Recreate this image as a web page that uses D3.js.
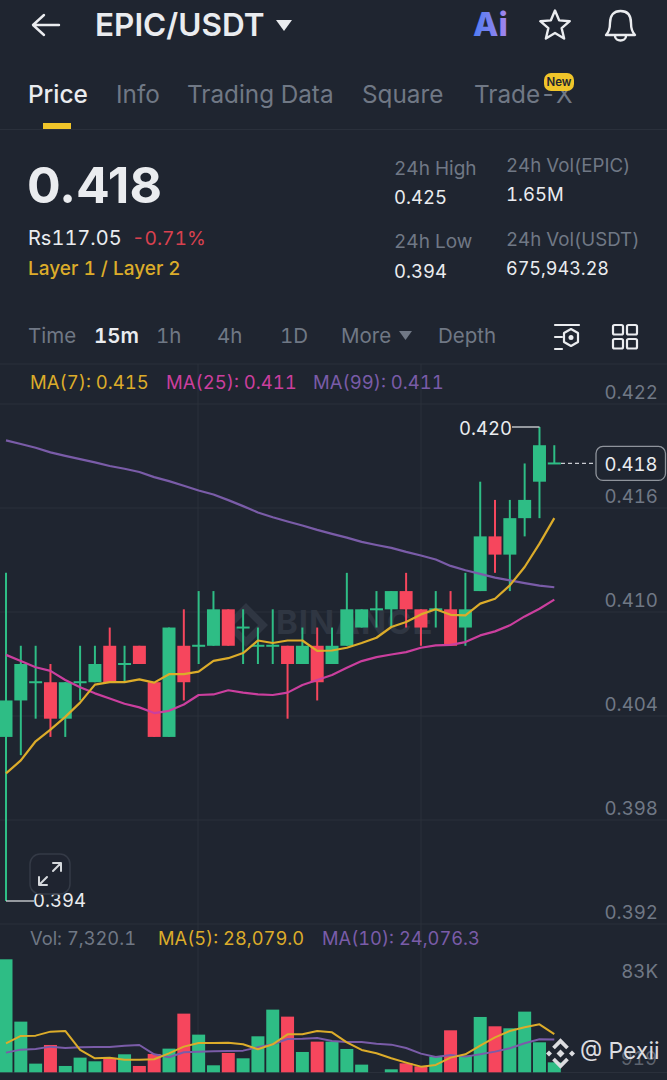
<!DOCTYPE html>
<html>
<head>
<meta charset="utf-8">
<script src="https://cdn.jsdelivr.net/npm/d3@7"></script>
<style>
    html, body { margin: 0; padding: 0; background: #1f2530; }
    svg { display: block; }
    text { font-family: Inter, "Noto Sans", sans-serif; font-variant-numeric: tabular-nums; }
</style>
</head>
<body>
<div id="chart"></div>
<script>

// candles, oldest first
const opens = [.403,.405,.406,.406,.404,.406,.406,.408,.407,.408,.406,.403,.408,.408,.408,.410,.409,.408,.408,.408,.407,.408,.407,.408,.409,.410,.410,.411,.410,.410,.410,.409,.411,.414,.413,.415,.417,.418];
const closes = [.405,.407,.406,.404,.406,.406,.407,.406,.407,.407,.403,.409,.406,.408,.410,.408,.409,.408,.408,.407,.408,.406,.408,.410,.410,.410,.411,.410,.409,.410,.408,.410,.414,.413,.415,.416,.419,.418];
const highs = [.412,.408,.408,.407,.406,.408,.408,.409,.408,.408,.406,.409,.410,.411,.411,.410,.410,.409,.410,.408,.409,.409,.409,.412,.410,.411,.411,.412,.410,.411,.411,.412,.417,.416,.416,.418,.420,.419];
const lows = [.394,.402,.404,.403,.403,.405,.406,.406,.406,.407,.403,.403,.405,.407,.408,.408,.407,.407,.407,.404,.407,.405,.407,.408,.409,.409,.409,.409,.408,.409,.408,.408,.411,.412,.411,.414,.415,.418];

const ma7 = [.40100,.40171,.40276,.40340,.40410,.40488,.40587,.40601,.40601,.40616,.40598,.40644,.40644,.40658,.40717,.40732,.40760,.40829,.40815,.40829,.40829,.40772,.40774,.40789,.40815,.40844,.40903,.40930,.40972,.41000,.40970,.40967,.41031,.41058,.41131,.41232,.41360,.41500];
const ma25 = [.40750,.40717,.40682,.40662,.40612,.40572,.40539,.40511,.40482,.40462,.40431,.40443,.40478,.40530,.40533,.40556,.40543,.40533,.40530,.40543,.40585,.40612,.40640,.40679,.40716,.40738,.40752,.40765,.40789,.40802,.40805,.40820,.40857,.40879,.40912,.40961,.41003,.41053];
const ma99 = [.41927,.41907,.41886,.41861,.41842,.41824,.41806,.41786,.41771,.41753,.41725,.41703,.41678,.41652,.41630,.41599,.41566,.41531,.41505,.41482,.41460,.41436,.41414,.41393,.41370,.41353,.41337,.41315,.41295,.41273,.41238,.41214,.41194,.41174,.41159,.41144,.41130,.41121];

const volumes = [83000,37215,6366,20077,4652,10773,8080,10283,13221,4652,13466,17383,43091,27667,5142,14200,10283,26442,46029,40888,14935,22525,22525,17139,5631,0,2204,6611,4407,11507,30850,12242,40643,33788,32319,44560,22035,7320];
const volMa5 = [21300,26700,26930,29870,30360,16400,10280,10770,9300,9300,9550,13950,18850,21540,21540,21790,20560,16890,20560,27910,27910,30360,29380,22030,16400,13950,10280,7100,4160,5390,10770,13220,19580,25700,30360,33050,35250,28079];
const volMa10 = [14440,16650,17140,18850,17870,18360,18600,18600,19580,20070,13220,11020,14690,15180,15420,15670,15910,18360,20560,24480,24720,25210,23010,22280,22280,21050,20320,17870,13710,11260,12730,11510,13220,15180,17630,21300,24240,24076];

const axisTicks = [.422,.416,.410,.404,.398,.392];
const tabs = ['Price','Info','Trading Data','Square','Trade-X'];
const periods = ['Time','15m','1h','4h','1D','More','Depth'];

const width = 667, height = 1080;
const GREEN = '#2ebd85', RED = '#f6465d', YELLOW = '#dcac2a', PINK = '#cb3f9e', PURPLE = '#7a5ca8';
const GREY = '#707885', WHITE = '#eaecef', GRID = '#2a303b';

const svg = d3.select('#chart')
    .append('svg')
    .attr('width', width)
    .attr('height', height)
    .style('background', '#1f2530');

function label(x, y, txt, size, fill, weight, anchor) {
    return svg.append('text')
        .attr('x', x)
        .attr('y', y + 2)
        .attr('text-anchor', anchor || 'start')
        .attr('dominant-baseline', 'middle')
        .style('font-size', size + 'px')
        .style('font-weight', weight || 400)
        .style('fill', fill)
        .text(txt);
}

function icon(d, stroke, sw) {
    return svg.append('path')
        .attr('d', d)
        .attr('fill', 'none')
        .attr('stroke', stroke || WHITE)
        .attr('stroke-width', sw || 2.4)
        .attr('stroke-linecap', 'round')
        .attr('stroke-linejoin', 'round');
}

// scales
const x = d3.scaleLinear().domain([0, 37]).range([6, 554.3]);
const y = d3.scaleLinear().domain([.420, .394]).range([427, 901]);
const yAxis = d3.scaleLinear().domain([.422, .392]).range([404, 924]);
const yVol = d3.scaleLinear().domain([0, 83000]).range([1072.3, 959.3]);

// header
icon('M59 25H34M44 15L33 25L44 35');
label(95, 25, 'EPIC/USDT', 31.500, WHITE, 600);
svg.append('path').attr('d', 'M276 20H292L284 31Z').attr('fill', WHITE);

let grad = svg.append('defs').append('linearGradient').attr('id', 'aiGrad').attr('x1', 0).attr('x2', 1).attr('y1', 0).attr('y2', 0);
grad.append('stop').attr('offset', '0%').attr('stop-color', '#4f7df2');
grad.append('stop').attr('offset', '100%').attr('stop-color', '#a585ee');
label(473, 25, 'Ai', 33, 'url(#aiGrad)', 800);

// star + bell
const starPts = d3.range(10).map(i => {
    let r = i % 2 ? 7 : 15.5, a = i * Math.PI / 5;
    return [555 + r * Math.sin(a), 26 - r * Math.cos(a)];
});
svg.append('path').attr('d', d3.line().curve(d3.curveLinearClosed)(starPts))
    .attr('fill', 'none').attr('stroke', WHITE).attr('stroke-width', 2.4).attr('stroke-linejoin', 'round');
icon('M606 35C609 32 610 29 610 23C610 15 614 11 620.500 11C627 11 631 15 631 23C631 29 632 32 635 35ZM615 36C615 42 626 42 626 36');

// tabs
const tabX = [28, 116, 187, 362, 474];
tabs.forEach((t, i) => label(tabX[i], 94, t, 24.300, i === 0 ? WHITE : GREY, i === 0 ? 500 : 400));
svg.append('rect').attr('x', 43).attr('y', 123).attr('width', 28).attr('height', 6).attr('fill', '#f0c52a');
svg.append('rect').attr('x', 544).attr('y', 73).attr('width', 30).attr('height', 18).attr('rx', 7).attr('fill', '#f0c52a');
label(559, 80.500, 'New', 11.500, '#1f2530', 600, 'middle');
svg.append('line').attr('x1', 0).attr('x2', width).attr('y1', 129.500).attr('y2', 129.500).attr('stroke', GRID);

// price block
label(27, 187.500, '0.418', 50, WHITE, 700).style('font-variant-numeric', 'normal');
label(28, 238, 'Rs117.05', 20, WHITE, 400);
label(132, 238, '-0.71%', 19.200, '#d8414f', 400);
label(28, 268, 'Layer 1 / Layer 2', 19, YELLOW, 500);

label(394, 168, '24h High', 19, GREY);
label(394, 197, '0.425', 18.500, WHITE);
label(394, 241, '24h Low', 19, GREY);
label(394, 271, '0.394', 18.500, WHITE);
label(506, 165, '24h Vol(EPIC)', 18.700, GREY);
label(506, 194, '1.65M', 18.500, WHITE);
label(506, 239, '24h Vol(USDT)', 18.700, GREY);
label(506, 268, '675,943.28', 18, WHITE);

// period bar
const periodX = [28, 94, 156, 217, 280, 341, 438];
periods.forEach((t, i) => label(periodX[i], 335, t, 20.500, i === 1 ? WHITE : GREY, i === 1 ? 600 : 400));
svg.append('path').attr('d', 'M399 331H412L405.500 340Z').attr('fill', GREY);
icon('M555 325H579M555 337H562M555 349H562', WHITE, 2.2);
icon('M571 329L578 333V342L571 346L564 342V333Z', WHITE, 2.2);
svg.append('circle').attr('cx', 571).attr('cy', 337.500).attr('r', 2.500).attr('fill', WHITE);
[[613, 325], [627, 325], [613, 339], [627, 339]].forEach(p => {
    svg.append('rect').attr('x', p[0]).attr('y', p[1]).attr('width', 10).attr('height', 9.500).attr('rx', 1.500)
        .attr('fill', 'none').attr('stroke', WHITE).attr('stroke-width', 2.2);
});

svg.append('line').attr('x1', 0).attr('x2', width).attr('y1', 364).attr('y2', 364).attr('stroke', GRID);

// grid
axisTicks.forEach(t => {
    svg.append('line').attr('x1', 0).attr('x2', width).attr('y1', yAxis(t)).attr('y2', yAxis(t)).attr('stroke', GRID);
    label(658, yAxis(t) - 12, t.toFixed(3), 18.700, GREY, 400, 'end');
});
[198, 421].forEach(v => {
    svg.append('line').attr('x1', v).attr('x2', v).attr('y1', 364).attr('y2', 1072).attr('stroke', GRID);
});
svg.append('line').attr('x1', 0).attr('x2', width).attr('y1', 1072.500).attr('y2', 1072.500).attr('stroke', GRID);

// watermark
const wm = '#2f3642';
svg.append('path').attr('d', 'M246 603L268 625L246 647L224 625Z M246 613L258 625L246 637L234 625Z')
    .attr('fill', wm).attr('fill-rule', 'evenodd');
label(276, 623, 'BINANCE', 33, wm, 700).style('letter-spacing', '1px');

// legend
label(30, 381.500, 'MA(7): 0.415', 18.500, YELLOW);
label(166, 381.500, 'MA(25): 0.411', 18.500, PINK);
label(313, 381.500, 'MA(99): 0.411', 18.500, PURPLE);

// candles
d3.range(opens.length).forEach(i => {
    let up = closes[i] >= opens[i],
        col = up ? GREEN : RED,
        top = Math.max(opens[i], closes[i]),
        bot = Math.min(opens[i], closes[i]),
        h = Math.max(y(bot) - y(top), 2);

    svg.append('line')
        .attr('x1', x(i)).attr('x2', x(i))
        .attr('y1', y(highs[i])).attr('y2', y(lows[i]))
        .attr('stroke', col).attr('stroke-width', 2);

    svg.append('rect')
        .attr('x', x(i) - 6.500)
        .attr('y', y(top) - (top === bot ? 1 : 0))
        .attr('width', 13)
        .attr('height', h)
        .attr('fill', col);
});

// MA lines
const priceLine = d3.line().x((d, i) => x(i)).y(d => y(d));
[[ma99, PURPLE], [ma25, PINK], [ma7, YELLOW]].forEach(s => {
    svg.append('path').attr('d', priceLine(s[0]))
        .attr('fill', 'none').attr('stroke', s[1]).attr('stroke-width', 2.2).attr('stroke-linejoin', 'round');
});

// high / low markers
const hiIdx = highs.indexOf(d3.max(highs));
const loIdx = lows.indexOf(d3.min(lows));
svg.append('path').attr('d', `M512 ${y(highs[hiIdx])}H${x(hiIdx)}`).attr('stroke', '#d5d8dc').attr('stroke-width', 1.300).attr('fill', 'none');
label(459, y(highs[hiIdx]) - 1 + 1.500, d3.format('.3f')(highs[hiIdx]), 18.500, WHITE);
svg.append('path').attr('d', `M${x(loIdx)} ${y(lows[loIdx])}H34`).attr('stroke', '#d5d8dc').attr('stroke-width', 1.300).attr('fill', 'none');
label(33, y(lows[loIdx]) - 1, d3.format('.3f')(lows[loIdx]), 18.500, WHITE);

// last price tag
const last = closes[closes.length - 1];
svg.append('line').attr('x1', 561).attr('x2', 596).attr('y1', y(last)).attr('y2', y(last))
    .attr('stroke', '#c9ccd1').attr('stroke-width', 1.300).attr('stroke-dasharray', '4 3');
svg.append('rect').attr('x', 596).attr('y', y(last) - 17).attr('width', 69.500).attr('height', 34).attr('rx', 7)
    .attr('fill', '#1f2530').attr('stroke', '#8f949c').attr('stroke-width', 1.300);
label(631, y(last), d3.format('.3f')(last), 18.500, WHITE, 400, 'middle');

// expand button
svg.append('rect').attr('x', 30).attr('y', 854).attr('width', 40).attr('height', 40).attr('rx', 10)
    .attr('fill', '#1f2530').attr('fill-opacity', .6).attr('stroke', '#343a46').attr('stroke-width', 1.500);
icon('M39 885L47 877M53 871L61 863M53 863H61V871M39 877V885H47', '#d5d8dc', 2);

// volume
label(30, 937.500, 'Vol: 7,320.1', 18.300, GREY);
label(158, 937.500, 'MA(5): 28,079.0', 18.300, YELLOW);
label(322, 937.500, 'MA(10): 24,076.3', 18.300, PURPLE);

d3.range(volumes.length).forEach(i => {
    svg.append('rect')
        .attr('x', x(i) - 6.500)
        .attr('y', yVol(volumes[i]))
        .attr('width', 13)
        .attr('height', yVol(0) - yVol(volumes[i]))
        .attr('fill', closes[i] >= opens[i] ? GREEN : RED);
});

const volLine = d3.line().x((d, i) => x(i)).y(d => yVol(d));
[[volMa10, PURPLE], [volMa5, YELLOW]].forEach(s => {
    svg.append('path').attr('d', volLine(s[0]))
        .attr('fill', 'none').attr('stroke', s[1]).attr('stroke-width', 2).attr('stroke-linejoin', 'round');
});

label(658, 971, '83K', 18.700, GREY, 400, 'end');
label(657, 1058, '919', 18.700, '#5d636e', 400, 'end');

// corner watermark
const cw = '#dcdde0';
icon('M553.500 1048L560.500 1041L567.500 1048M553.500 1059L560.500 1066L567.500 1059', cw, 3.800).attr('stroke-linecap', 'butt').attr('stroke-linejoin', 'miter');
[[560.500, 1053.500, 4], [549, 1053.500, 3], [572, 1053.500, 3]].forEach(d => {
    svg.append('path')
        .attr('d', `M${d[0]} ${d[1] - d[2]}L${d[0] + d[2]} ${d[1]}L${d[0]} ${d[1] + d[2]}L${d[0] - d[2]} ${d[1]}Z`)
        .attr('fill', cw);
});
label(580, 1051, '@ Pexii', 23, cw, 400);

</script>
</body>
</html>
